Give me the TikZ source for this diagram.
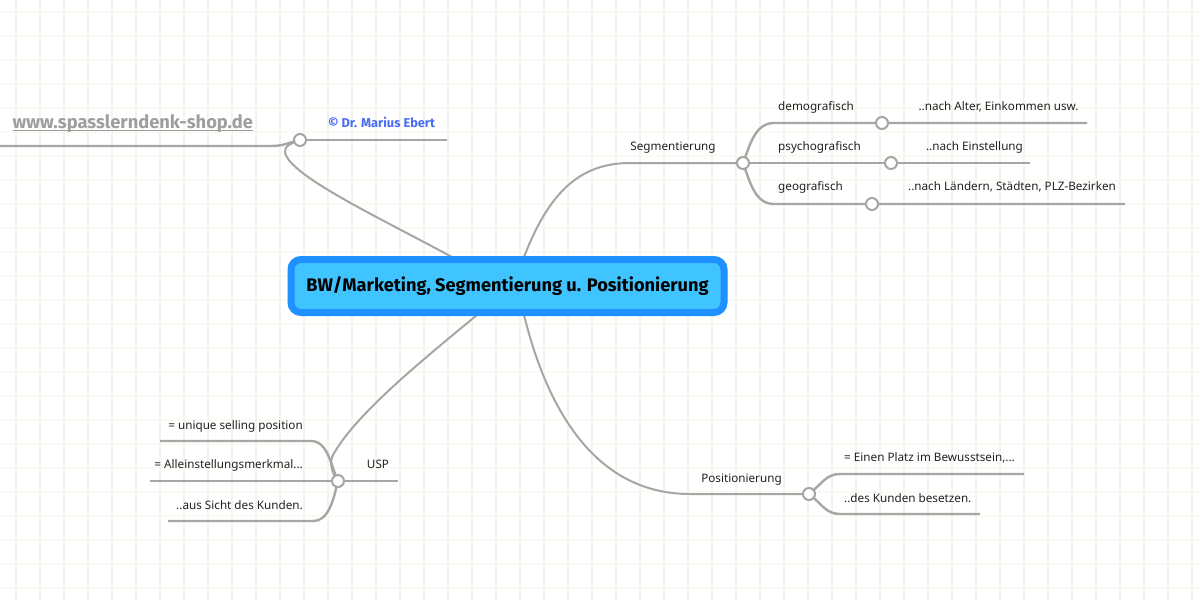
\documentclass[tikz,border=0pt]{standalone}
\usepackage{fontspec}
\setmainfont{Noto Sans}
\newfontfamily\heavyfont{Fira Sans}
\definecolor{gridv}{HTML}{F2F6EA}
\definecolor{gridh}{HTML}{F9FBF4}
\definecolor{branch}{HTML}{A6A6A6}
\definecolor{boxfill}{HTML}{40C4FF}
\definecolor{boxline}{HTML}{1E90FF}
\definecolor{labelc}{HTML}{222222}
\definecolor{linkc}{HTML}{9E9E9E}
\definecolor{authorc}{HTML}{4A6CF7}
\pgfdeclarelayer{gridlayer}
\pgfdeclarelayer{linelayer}
\pgfsetlayers{gridlayer,linelayer,main}
\tikzset{
  x=1pt,y=-1pt,
  branchline/.style={draw=branch,line width=2.4pt},
  thinline/.style={draw=branch,line width=2pt},
  knot/.style={circle,draw=branch,line width=2pt,fill=white,minimum size=12pt,inner sep=0pt},
  lbl/.style={font=\fontsize{11.7}{14}\selectfont,text=labelc,inner sep=0pt,anchor=base},
  root/.style={rounded corners=10pt,draw=boxline,line width=7pt,fill=boxfill,minimum width=433pt,minimum height=53pt,inner sep=0pt,font=\heavyfont\fontsize{18.2}{20}\selectfont\bfseries,text=black},
}
\begin{document}
\begin{tikzpicture}
\useasboundingbox (0,0) rectangle (1200,600);
\begin{pgfonlayer}{gridlayer}
\fill[white] (0,0) rectangle (1200,600);
\foreach \y in {12,36,...,588} \draw[gridh,line width=1.5pt] (0,\y) -- (1200,\y);
\foreach \x in {16,40,...,1192} \draw[gridv,line width=1.5pt] (\x,0) -- (\x,600);
\end{pgfonlayer}

\node[root] (center) at (507.5,286) {BW/Marketing, Segmentierung u. Positionierung};

\node[knot] (kweb) at (300,140) {};
\node[knot] (kseg) at (743,163) {};
\node[knot] (kusp) at (338,481) {};
\node[knot] (kpos) at (809,494) {};
\node[knot] (kdem) at (882,123) {};
\node[knot] (kpsy) at (891,163) {};
\node[knot] (kgeo) at (872,204) {};

\coordinate (cweb) at (452,257);
\coordinate (cseg) at (524,257);
\coordinate (cpos) at (524,315);
\coordinate (cusp) at (477,315);
\coordinate (eweb) at (0,146);
\coordinate (eaut) at (447,140);
\coordinate (edem) at (1087,123);
\coordinate (epsy) at (1030,163);
\coordinate (egeo) at (1125,204);
\coordinate (eusp) at (398,481);
\coordinate (eu1) at (160,441);
\coordinate (eu2) at (150,481);
\coordinate (eu3) at (168,521);
\coordinate (ep1) at (1024,474);
\coordinate (ep2) at (980,514);

\begin{pgfonlayer}{linelayer}
\draw[thinline] (cweb) .. controls (380,218) and (288,175) .. (285,152) .. controls (284,146) and (292,143) .. (kweb.center);
\draw[thinline] (cseg) .. controls (548,195) and (578,163) .. (630,163) -- (kseg.center);
\draw[thinline] (cpos) .. controls (545,400) and (590,494) .. (690,494) -- (kpos.center);
\draw[thinline] (cusp) .. controls (420,362) and (355,415) .. (333,455) .. controls (329,463) and (332,474) .. (kusp.center);

\draw[branchline] (kweb.center) .. controls (290,142) and (284,146) .. (272,146) -- (eweb);
\draw[branchline] (kweb.center) -- (eaut);
\draw[branchline] (kseg.center) .. controls (750,145) and (755,123) .. (774,123) -- (kdem.center) -- (edem);
\draw[branchline] (kseg.center) -- (kpsy.center) -- (epsy);
\draw[branchline] (kseg.center) .. controls (750,182) and (755,204) .. (774,204) -- (kgeo.center) -- (egeo);
\draw[branchline] (kusp.center) -- (eusp);
\draw[branchline] (kusp.center) .. controls (331,466) and (328,441) .. (311,441) -- (eu1);
\draw[branchline] (kusp.center) -- (eu2);
\draw[branchline] (kusp.center) .. controls (334,496) and (330,521) .. (313,521) -- (eu3);
\draw[branchline] (kpos.center) .. controls (822,484) and (826,474) .. (840,474) -- (ep1);
\draw[branchline] (kpos.center) .. controls (822,504) and (826,514) .. (840,514) -- (ep2);
\end{pgfonlayer}

\node[inner sep=0pt,anchor=base west,text=linkc,font=\heavyfont\fontsize{18.3}{20}\selectfont\bfseries] (web) at (12.5,128) {www.spasslerndenk-shop.de};
\draw[linkc,line width=1pt] ([yshift=-2pt]web.base west) -- ([yshift=-2pt]web.base east);
\node[inner sep=0pt,anchor=base west,text=authorc,font=\heavyfont\fontsize{12.8}{14}\selectfont\bfseries] (author) at (328,127) {© Dr. Marius Ebert};

\node[lbl,anchor=base] (seg) at (673,150) {Segmentierung};
\node[lbl,anchor=base west] (dem) at (778,110) {demografisch};
\node[lbl,anchor=base west] (psy) at (778,150) {psychografisch};
\node[lbl,anchor=base west] (geo) at (778,190) {geografisch};
\node[lbl,anchor=base] (tdem) at (998.5,110) {..nach Alter, Einkommen usw.};
\node[lbl,anchor=base] (tpsy) at (974.5,150) {..nach Einstellung};
\node[lbl,anchor=base] (tgeo) at (1012,190) {..nach Ländern, Städten, PLZ-Bezirken};
\node[lbl,anchor=base] (tpos) at (741.5,482) {Positionierung};
\node[lbl,anchor=base west] (tp1) at (844,461) {= Einen Platz im Bewusstsein,...};
\node[lbl,anchor=base west] (tp2) at (844,502) {..des Kunden besetzen.};
\node[lbl,anchor=base east] (tu1) at (303,429) {= unique selling position};
\node[lbl,anchor=base east] (tu2) at (303,468) {= Alleinstellungsmerkmal...};
\node[lbl,anchor=base east] (tu3) at (303,509) {..aus Sicht des Kunden.};
\node[lbl,anchor=base] (tusp) at (378,468) {USP};
\end{tikzpicture}
\end{document}
